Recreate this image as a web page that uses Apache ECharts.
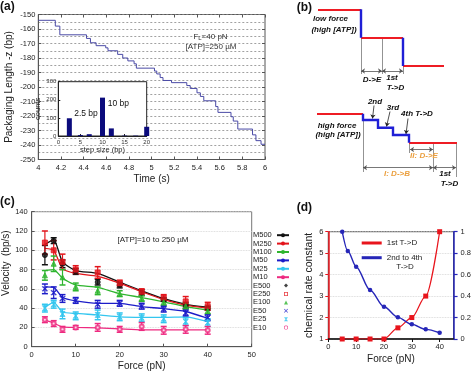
<!DOCTYPE html>
<html><head><meta charset="utf-8">
<script src="https://cdn.jsdelivr.net/npm/echarts@6/dist/echarts.min.js"></script>
<style>html,body{margin:0;padding:0;background:#fff}#c{width:474px;height:373px}</style>
</head><body><div id="c"></div>
<script>
const FONT = 'Liberation Sans, Arial, sans-serif';

// ---------- Panel (a): packaging trace ----------
const traceTime = [4.000,4.150,4.190,4.425,4.460,4.510,4.595,4.615,4.700,4.745,4.790,4.845,4.865,5.025,5.045,5.075,5.100,5.175,5.310,5.340,5.400,5.430,5.460,5.565,5.585,5.700,5.720,5.760,5.890,5.920,5.965,6.000];
const traceLength = [-154,-158,-164,-166.5,-169.5,-171.5,-173,-175,-177.5,-180,-182,-184,-187,-189,-191,-193.5,-195.5,-197,-199,-201,-204,-206.5,-209.5,-213.5,-217.5,-220.5,-223.5,-229,-233,-237,-239.5,-239.5];
// inset histogram
const stepSizes = [2.5, 5, 7, 10, 12, 15, 17.5, 20];
const stepCounts = [98, 5, 10, 212, 42, 2, 2, 51];

// ---------- Panel (b): schematic (diagram units) ----------
const lowRed = [[[318,9.3],[361,9.3]], [[361,37.7],[403,37.7]], [[403,66],[444,66]]];
const lowBlue = [[[361,9.3],[361,37.7]], [[403,37.7],[403,66]]];
const lowGuides = [[[361,37.7],[361,74]], [[382,37.7],[382,74]], [[403,66],[403,74]]];
const lowArrows = [[[361,71],[382,71]], [[382,71],[403,71]]];
const highRed = [[[317,113.7],[363,113.7]], [[409,142.7],[457,142.7]]];
const highBlue = [[[363,113.7],[363,120],[378,120],[378,127.7],[393,127.7],[393,135],[409,135],[409,142.7]]];
const highGuides = [[[363,120],[363,172]], [[409,142.7],[409,153]], [[433,142.7],[433,172]], [[456,142.7],[456,177]]];
const highArrows = [[[410,149.5],[433,149.5]], [[363,167.7],[433,167.7]], [[433,167.7],[456,167.7]]];
const pointers = [[[374,105.5],[372.5,118.5]], [[390,111.5],[386.5,126.5]], [[408,118.5],[406,134]]];

// ---------- Panel (c): velocity vs force ----------
const forces = [3,5,7,10,15,20,25,30,35,40];
const M500 = [106,111,88,79,76,67,58,50,44,41];
const M250 = [102,100,81,76,73,66,57,49,43,40];
const M100 = [79,80,71,64,61.5,55,51,46.5,41.5,38];
const M50  = [62,61.5,51,47.5,45,45,41.5,39.5,36.5,29.5];
const M25  = [41,46,36,34.5,33,31,30.5,30.5,31,26];
const M10  = [27.5,24.5,20.5,20,19.5,18.5,17.5,17.5,17.5,17.5];
const E500 = [95,110,86,78,67,64,56,49,43,40];
const E500err = [10,3,4,3,3,3,3,2,3,2];
const E250 = [108,100,88,80,77,66,57,51,47,42];
const E250err = [12,10,8,4,6,3,3,3,5,4];
const E100 = [74,86,72,62,58,55,50,46,42,37];
const E100err = [5,8,8,4,4,3,3,3,3,3];
const E50 = [60,56,50,48,44,45,42,39,35,30];
const E50err = [5,6,4,3,4,3,3,3,3,3];
const E25 = [40,44,34,32,33,31,30,29,26,25];
const E25err = [4,4,5,4,5,4,4,4,4,4];
const E10 = [28,24,18,20,20,18,21,17,18,17];
const E10err = [3,3,3,2,4,3,4,4,4,4];

// ---------- Panel (d): rate constants ----------
const dForce1 = [5,10,15,20,25,30,35,40];
const rate1 = [1,1,1,1,1.52,2,3,6];
const dForce2 = [5,7,10,15,20,25,30,35,40];
const rate2 = [1,0.82,0.674,0.456,0.30,0.202,0.137,0.09,0.058];

const zip = (a, b) => a.map((v, i) => [v, b[i]]);
const zip3 = (a, b, c) => a.map((v, i) => [v, b[i], c[i]]);
const seg = arr => arr.map(c => ({coords: c}));

const cBlack = '#111', cRed = '#e3141b', cGreen = '#2fb52f', cBlue = '#1c1cc8', cCyan = '#33c6ef', cMag = '#ee2a80';
const RED_B = '#ee1c24', BLUE_B = '#1f1fd6', ORANGE = '#eba040';

function errBar(color){
  return function(params, api){
    const x = api.value(0), y = api.value(1), e = api.value(2);
    const p1 = api.coord([x, y - e]), p2 = api.coord([x, y + e]);
    const w = 3;
    return {type:'group', children:[
      {type:'line', shape:{x1:p1[0],y1:p1[1],x2:p2[0],y2:p2[1]}, style:{stroke:color,lineWidth:1.2}},
      {type:'line', shape:{x1:p1[0]-w,y1:p1[1],x2:p1[0]+w,y2:p1[1]}, style:{stroke:color,lineWidth:1.5}},
      {type:'line', shape:{x1:p2[0]-w,y1:p2[1],x2:p2[0]+w,y2:p2[1]}, style:{stroke:color,lineWidth:1.5}}
    ]};
  };
}

const tickLbl = {fontSize: 7.5, color: '#222', fontFamily: FONT};
const nameSt = {fontSize: 10, color: '#222', fontFamily: FONT};

const mNames = ['M500','M250','M100','M50','M25','M10'];
const mData = [M500, M250, M100, M50, M25, M10];
const eNames = ['E500','E250','E100','E50','E25','E10'];
const eData = [E500, E250, E100, E50, E25, E10];
const eErr = [E500err, E250err, E100err, E50err, E25err, E10err];
const colors = [cBlack, cRed, cGreen, cBlue, cCyan, cMag];
const eSymbols = ['circle','rect','triangle',
  'path://M0,1L1,0L5,4L9,0L10,1L6,5L10,9L9,10L5,6L1,10L0,9L4,5Z',
  'path://M0,0L10,0L6,5L10,10L0,10L4,5Z',
  'emptyCircle'];
// legend icons: small marks at the right end of a 24x10 box
const A = 'M0,0M24,10';
const eIcons = [
  'path://' + A + 'M18,1L22,5L18,9L14,5Z',
  'path://' + A + 'M14,1L22,1L22,9L14,9ZM15.6,2.6L15.6,7.4L20.4,7.4L20.4,2.6Z',
  'path://' + A + 'M18,1L22,9L14,9Z',
  'path://' + A + 'M14,2L15,1L18,4L21,1L22,2L19,5L22,8L21,9L18,6L15,9L14,8L17,5Z',
  'path://' + A + 'M14,1L22,1L19,5L22,9L14,9L17,5Z',
  'path://' + A + 'M16,1L20,1L22,3L22,7L20,9L16,9L14,7L14,3ZM16.6,2.4L15.4,3.6L15.4,6.4L16.6,7.6L19.4,7.6L20.6,6.4L20.6,3.6L19.4,2.4Z'
];

const series = [];
// (a) trace
series.push({type:'line', xAxisIndex:0, yAxisIndex:0, data: zip(traceTime, traceLength), step:'end',
  symbol:'none', lineStyle:{color:'#4a4aa6', width:1}, z:3, silent:true});
// (a) inset histogram
series.push({type:'bar', xAxisIndex:2, yAxisIndex:2, data: zip(stepSizes, stepCounts), barWidth:5,
  itemStyle:{color:'#0b0b7c'}, z:7});
// (b) schematic
const lineSer = (data, color, width, symbol, z, polyline) => ({type:'lines', coordinateSystem:'cartesian2d',
  xAxisIndex:3, yAxisIndex:3, polyline: !!polyline, data: seg(data), symbol: symbol || 'none', symbolSize: 4,
  lineStyle:{color, width, opacity:1, curveness:0}, z, silent:true});
series.push(lineSer(lowGuides, '#777', 0.8, null, 2));
series.push(lineSer(highGuides, '#777', 0.8, null, 2));
series.push(lineSer(lowArrows, '#555', 0.8, ['arrow','arrow'], 2));
series.push(lineSer(highArrows, '#555', 0.8, ['arrow','arrow'], 2));
series.push(lineSer(pointers, '#222', 0.8, ['none','arrow'], 2));
series.push(lineSer(lowRed, RED_B, 2.2, null, 3));
series.push(lineSer(highRed, RED_B, 2.2, null, 3));
series.push(lineSer(lowBlue, BLUE_B, 2.4, null, 4));
series.push(lineSer(highBlue, BLUE_B, 2.4, null, 4, true));
// (c) model lines
mNames.forEach((n, i) => series.push({type:'line', name:n, xAxisIndex:4, yAxisIndex:4,
  data: zip(forces, mData[i]), smooth:0.2, symbol:'circle', symbolSize:3, showSymbol:false,
  lineStyle:{color:colors[i], width:1.3}, itemStyle:{color:colors[i]}, z:3}));
// (c) experimental error bars + points
eNames.forEach((n, i) => {
  series.push({type:'custom', xAxisIndex:4, yAxisIndex:4, data: zip3(forces, eData[i], eErr[i]),
    renderItem: errBar(colors[i]), encode:{x:0, y:1}, z:4, silent:true});
  series.push({type:'scatter', name:n, xAxisIndex:4, yAxisIndex:4, data: zip(forces, eData[i]),
    symbol: eSymbols[i], symbolSize: i===5 ? 4 : 5, itemStyle:{color:colors[i], borderColor:colors[i]}, z:5});
});
// (d)
series.push({type:'line', name:'1st T->D', xAxisIndex:5, yAxisIndex:5, data: zip(dForce1, rate1),
  smooth:0.3, smoothMonotone:'x', symbol:'rect', symbolSize:5, lineStyle:{color:'#e8141c', width:1.2},
  itemStyle:{color:'#e8141c'}, z:4});
series.push({type:'line', name:'2nd to 4th', xAxisIndex:5, yAxisIndex:6, data: zip(dForce2, rate2),
  smooth:0.3, smoothMonotone:'x', symbol:'circle', symbolSize:4.5, lineStyle:{color:'#2626b8', width:1.4},
  itemStyle:{color:'#2626b8'}, z:4});

const T = (x, y, text, o) => Object.assign({type:'text', x, y, z:100,
  style: Object.assign({text, fill:'#111', fontFamily:FONT, fontSize:8, align:'center', verticalAlign:'middle'}, o || {})});
const bi = {fontStyle:'italic', fontWeight:'bold', fontSize:8};
const graphics = [
  T(0, 7, '(a)', {fontSize:12, fontWeight:'bold', align:'left'}),
  T(296.7, 7.5, '(b)', {fontSize:12, fontWeight:'bold', align:'left'}),
  T(0, 201.5, '(c)', {fontSize:12, fontWeight:'bold', align:'left'}),
  T(296.7, 208, '(d)', {fontSize:12, fontWeight:'bold', align:'left'}),
  {type:'text', x:210.5, y:36.7, z:100, style:{text:'{a|F}{s|L}{a|=40 pN}', align:'center', verticalAlign:'middle',
    rich:{a:{fontSize:8, fontFamily:FONT, fill:'#333'}, s:{fontSize:6, fontFamily:FONT, fill:'#333', padding:[4,0,0,0]}}}},
  T(211, 46.7, '[ATP]=250 µM', {fill:'#333'}),
  T(86, 113.3, '2.5 bp', {fontSize:8.5}),
  T(118.3, 103.3, '10 bp', {fontSize:8.5}),
  T(330.5, 18.3, 'low force', bi),
  T(334, 29.3, '(high [ATP])', bi),
  T(372, 80, 'D->E', bi),
  T(392, 78, '1st', bi),
  T(395.5, 87.7, 'T->D', bi),
  T(375, 101.7, '2nd', bi),
  T(393, 107.3, '3rd', bi),
  T(417, 114, '4th T->D', bi),
  T(337, 125.7, 'high force', bi),
  T(338, 135, '(high [ATP])', bi),
  T(424, 155.7, 'II: D->E', Object.assign({}, bi, {fill:ORANGE})),
  T(397, 173.3, 'I: D->B', Object.assign({}, bi, {fill:ORANGE})),
  T(445, 174, '1st', bi),
  T(449.5, 184, 'T->D', bi),
  T(153, 239.3, '[ATP]=10 to 250 µM', {fill:'#222'}),
  T(405, 266.5, 'T->D', {fill:'#222'})
];

const legendRich = {t:{width:19, align:'left', fontSize:7.5, fontFamily:FONT, color:'#222'}};
const legendCData = mNames.map(n => ({name:n})).concat(eNames.map((n, i) => ({name:n, icon:eIcons[i]})));

const option = {
  animation:false,
  backgroundColor:'#fff',
  textStyle:{fontFamily:FONT},
  grid:[
    {left:38.3, top:14.5, width:226.7, height:145, show:true, borderColor:'#555', borderWidth:1},
    {left:58.3, top:81.7, width:88.4, height:54.3, show:true, borderColor:'#222', borderWidth:1, backgroundColor:'#fff', z:5},
    {left:300, top:0, width:174, height:190},
    {left:31.7, top:211.7, width:220, height:135, show:true, borderColor:'#777', borderWidth:1},
    {left:328.3, top:231.7, width:127.6, height:107.3, show:true, borderColor:'#444', borderWidth:1}
  ],
  xAxis:[
    {gridIndex:0, type:'value', min:4, max:6, interval:0.2, axisLine:{lineStyle:{color:'#555'}},
      axisTick:{inside:true, length:3, lineStyle:{color:'#555'}}, axisLabel:{...tickLbl, margin:4},
      splitLine:{show:false}, name:'Time (s)', nameLocation:'middle', nameGap:15, nameTextStyle:nameSt},
    {gridIndex:0, type:'value', position:'top', min:4, max:6, interval:0.2, axisLine:{show:false},
      axisTick:{inside:true, length:3, lineStyle:{color:'#555'}}, axisLabel:{show:false}, splitLine:{show:false}},
    {gridIndex:1, type:'value', min:0, max:20, interval:5, z:6, axisLine:{lineStyle:{color:'#222'}},
      axisTick:{inside:true, length:2, lineStyle:{color:'#222'}}, axisLabel:{fontSize:6, color:'#333', margin:3},
      splitLine:{show:false}, name:'step size (bp)', nameLocation:'middle', nameGap:10,
      nameTextStyle:{fontSize:7.5, color:'#222'}},
    {gridIndex:2, type:'value', min:300, max:474, show:false},
    {gridIndex:3, type:'value', min:0, max:50, interval:10, axisLine:{lineStyle:{color:'#555'}},
      axisTick:{inside:true, length:3, lineStyle:{color:'#555'}}, axisLabel:{...tickLbl, margin:4},
      splitLine:{show:false}, name:'Force (pN)', nameLocation:'middle', nameGap:15, nameTextStyle:nameSt},
    {gridIndex:4, type:'value', min:0, max:45, interval:10, axisLine:{lineStyle:{color:'#111', width:1.5}},
      axisTick:{show:true, length:3, lineStyle:{color:'#111'}}, axisLabel:{...tickLbl, margin:4, showMaxLabel:false},
      splitLine:{show:false}, name:'Force (pN)', nameLocation:'middle', nameGap:15, nameTextStyle:nameSt}
  ],
  yAxis:[
    {gridIndex:0, type:'value', min:-250, max:-150, interval:10, axisLine:{lineStyle:{color:'#555'}},
      axisTick:{inside:true, length:3, lineStyle:{color:'#555'}}, axisLabel:{...tickLbl, margin:3},
      splitLine:{show:true, lineStyle:{color:'#8a8a8a', width:0.8, type:[2,2]}},
      minorTick:{show:false, splitNumber:2}, minorSplitLine:{show:true, lineStyle:{color:'#8a8a8a', width:0.8, type:[2,2]}},
      name:'Packaging Length -z (bp)', nameLocation:'middle', nameGap:24, nameTextStyle:nameSt},
    {gridIndex:0, type:'value', position:'right', min:-250, max:-150, interval:10, axisLine:{show:false},
      axisTick:{inside:true, length:3, lineStyle:{color:'#555'}}, axisLabel:{show:false}, splitLine:{show:false}},
    {gridIndex:1, type:'value', min:0, max:300, interval:100, z:6, axisLine:{lineStyle:{color:'#222'}},
      axisTick:{inside:true, length:2, lineStyle:{color:'#222'}}, axisLabel:{fontSize:6, color:'#333', margin:2},
      splitLine:{show:false}, name:'counts', nameLocation:'middle', nameGap:11,
      nameTextStyle:{fontSize:7.5, color:'#222'}},
    {gridIndex:2, type:'value', min:0, max:190, inverse:true, show:false},
    {gridIndex:3, type:'value', min:0, max:140, interval:20, axisLine:{lineStyle:{color:'#555'}},
      axisTick:{inside:true, length:3, lineStyle:{color:'#555'}}, axisLabel:{...tickLbl, margin:4},
      splitLine:{show:true, lineStyle:{color:'#cfcfcf', width:0.8, type:'dotted'}},
      name:'Velocity  (bp/s)', nameLocation:'middle', nameGap:17, nameTextStyle:Object.assign({}, nameSt, {padding:[0,0,0,32]})},
    {gridIndex:4, type:'value', min:1, max:6, interval:1, axisLine:{lineStyle:{color:'#e8141c', width:1.5}},
      axisTick:{show:true, length:3, lineStyle:{color:'#e8141c'}}, axisLabel:{...tickLbl, margin:5},
      splitLine:{show:true, lineStyle:{color:'#cfcfcf', width:0.8, type:'dotted'}},
      name:'chemical rate constant', nameLocation:'middle', nameGap:14, nameTextStyle:Object.assign({}, nameSt, {fontSize:10.5})},
    {gridIndex:4, type:'value', position:'right', min:0, max:1, interval:0.2, axisLine:{lineStyle:{color:'#2626b8', width:1.5}},
      axisTick:{show:true, length:4, lineStyle:{color:'#2626b8', width:1.2}},
      axisLabel:{...tickLbl, margin:7, formatter: v => (v === 0 || v === 1) ? String(v) : v.toFixed(1)},
      splitLine:{show:false}}
  ],
  legend:[
    {data: legendCData, orient:'vertical', left:253, top:231, align:'right', padding:0,
      itemWidth:12, itemHeight:5, itemGap:0, formatter: n => '{t|' + n + '}',
      textStyle:{fontSize:7.5, lineHeight:8.4, color:'#222', rich:legendRich}, selectedMode:false},
    {data:['1st T->D','2nd to 4th'], orient:'vertical', left:361.7, top:238, padding:0,
      icon:'rect', itemWidth:20, itemHeight:3, itemGap:4.7, selectedMode:false,
      textStyle:{fontSize:8, lineHeight:10, color:'#222'}}
  ],
  graphic:{elements: graphics},
  series
};

const chart = echarts.init(document.getElementById('c'), null, {renderer:'canvas'});
chart.setOption(option);
</script>
</body></html>
